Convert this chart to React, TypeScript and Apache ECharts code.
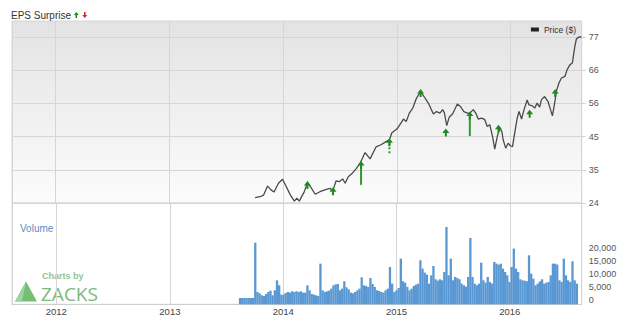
import React, { useEffect, useRef } from 'react';
import * as echarts from 'echarts';

// ---- Data ----
const priceDates = [
  '2013-10-03', '2013-10-19', '2013-10-30', '2013-11-12', '2013-11-23', '2013-12-03', '2013-12-17', '2013-12-30',
  '2014-01-08', '2014-01-24', '2014-02-06', '2014-02-14', '2014-02-22', '2014-03-02', '2014-03-09', '2014-03-20',
  '2014-03-31', '2014-04-14', '2014-04-29', '2014-05-15', '2014-05-31', '2014-06-09', '2014-06-20', '2014-06-30',
  '2014-07-11', '2014-07-19', '2014-07-29', '2014-08-09', '2014-08-23', '2014-09-05', '2014-09-21', '2014-10-07',
  '2014-10-26', '2014-11-11', '2014-11-27', '2014-12-08', '2014-12-16', '2015-01-01', '2015-01-14', '2015-01-22',
  '2015-01-31', '2015-02-10', '2015-02-21', '2015-03-05', '2015-03-18', '2015-03-29', '2015-04-12', '2015-04-28',
  '2015-05-08', '2015-05-19', '2015-05-28', '2015-06-02', '2015-06-10', '2015-06-18', '2015-06-29', '2015-07-14',
  '2015-07-24', '2015-08-04', '2015-08-15', '2015-08-23', '2015-09-03', '2015-09-11', '2015-09-19', '2015-09-30',
  '2015-10-10', '2015-10-18', '2015-10-26', '2015-11-04', '2015-11-11', '2015-11-19', '2015-11-27', '2015-12-04',
  '2015-12-08', '2015-12-16', '2015-12-24', '2016-01-01', '2016-01-07', '2016-01-14', '2016-01-22', '2016-01-28',
  '2016-02-05', '2016-02-13', '2016-02-23', '2016-02-29', '2016-03-11', '2016-03-18', '2016-03-26', '2016-04-03',
  '2016-04-09', '2016-04-19', '2016-04-30', '2016-05-08', '2016-05-14', '2016-05-22', '2016-05-27', '2016-06-04',
  '2016-06-12', '2016-06-23', '2016-06-30', '2016-07-09', '2016-07-17', '2016-07-25', '2016-07-30', '2016-08-07',
  '2016-08-15',
];
const priceValues = [
  25.7, 26.0, 26.5, 29.4, 28.2, 27.5, 30.3, 31.6,
  29.8, 26.6, 24.6, 25.5, 24.6, 26.2, 27.4, 30.5,
  29.0, 26.8, 27.6, 28.2, 28.7, 27.8, 31.1, 30.8,
  31.7, 30.3, 32.4, 33.3, 34.9, 36.7, 40.1, 38.1,
  41.9, 42.6, 43.6, 44.2, 46.4, 47.6, 49.5, 50.8,
  50.0, 52.7, 54.3, 57.5, 59.6, 58.0, 55.9, 52.4,
  53.2, 52.7, 53.8, 52.9, 48.7, 51.4, 52.5, 55.6,
  54.8, 53.2, 52.7, 52.7, 53.8, 52.7, 50.8, 51.1,
  50.6, 48.4, 49.0, 45.2, 41.2, 45.2, 48.0, 46.7,
  44.2, 41.5, 43.1, 42.2, 42.0, 46.3, 51.1, 53.2,
  50.8, 53.8, 56.9, 55.3, 55.0, 54.3, 55.9, 54.6,
  57.0, 58.0, 56.4, 53.8, 51.8, 56.4, 59.8, 62.3,
  63.9, 64.4, 66.5, 68.1, 68.7, 74.0, 76.4, 77.0,
  77.0,
];

// EPS surprise markers (all positive surprises)
const epsDates = ['2014-03-20', '2014-06-10', '2014-09-08', '2014-12-08', '2015-03-18', '2015-06-07', '2015-08-23', '2015-11-23', '2016-03-02', '2016-05-23'];
const epsValues = [29.4, 27.4, 35.8, 43.1, 58.8, 46.2, 51.6, 47.4, 52.2, 58.8];
const epsStemLow = [29.4, 27.4, 29.8, 39.9, 58.8, 46.2, 45.4, 47.4, 52.2, 58.8];
const epsStemKind = [0, 0, 1, 2, 0, 0, 1, 0, 0, 0]; // 0 none, 1 solid, 2 dotted

// Weekly volume, starting at volumeStart
const volumeStart = [2013, 7, 15];
const volumeValues = [
  2450, 2450, 2450, 2450, 2450, 2450, 2450, 23900, 4780, 4260,
  3490, 3230, 4000, 4780, 5300, 3490, 5430, 9300, 7360, 3750,
  3750, 4390, 4780, 4520, 5040, 4780, 5040, 4780, 5040, 4520,
  4520, 7360, 5430, 4000, 3750, 3490, 3230, 15760, 5430, 4780,
  5040, 5300, 6070, 7360, 7750, 7880, 5430, 6070, 8920, 6590,
  5810, 4520, 4260, 4780, 5430, 6070, 10470, 7360, 7110, 6720,
  10210, 7880, 6720, 5430, 5170, 4780, 4520, 5430, 6070, 14470,
  8010, 4780, 5430, 6330, 17700, 8920, 8400, 6720, 5430, 6070,
  7110, 7620, 8010, 17050, 13820, 12270, 11500, 8010, 11240, 14860,
  9690, 9170, 9690, 9300, 12530, 29970, 11240, 17700, 9300, 10590,
  10210, 9690, 8010, 7360, 6850, 10590, 25710, 10590, 8010, 7360,
  8010, 16150, 9300, 8400, 10590, 8660, 8010, 16410, 15760, 15380,
  15760, 13820, 12530, 11240, 8660, 14470, 21580, 13820, 12530, 9690,
  9300, 9170, 8920, 18990, 11890, 9950, 7360, 8010, 8920, 9690,
  8010, 8400, 8660, 11240, 15760, 15760, 15380, 9300, 8660, 17700,
  11240, 9300, 8660, 16670, 9300, 8010,
];

const priceTicks = [24, 34.6, 45.2, 55.8, 66.4, 77];
const volumeTicks = [0, 5000, 10000, 15000, 20000];
const xRange = ['2011-08-15', '2016-08-16'];

const FONT = '"Liberation Sans", Arial, sans-serif';

function toTs(s: string) {
  const [y, m, d] = s.split('-').map(Number);
  return new Date(y, m - 1, d).getTime();
}

export default function App() {
  const ref = useRef<HTMLDivElement>(null);

  useEffect(() => {
    if (!ref.current) return;
    const chart = echarts.init(ref.current, null, { renderer: 'svg' });

    const priceData = priceDates.map((d, i) => [toTs(d), priceValues[i]]);
    const epsData = epsDates.map((d, i) => [toTs(d), epsValues[i], epsStemLow[i], epsStemKind[i]]);
    const volData = volumeValues.map((v, i) => [
      new Date(volumeStart[0], volumeStart[1], volumeStart[2] + 7 * i).getTime(),
      v,
    ]);

    const xMin = toTs(xRange[0]);
    const xMax = toTs(xRange[1]);
    const YEAR = 365 * 24 * 3600 * 1000;
    const yearLabel = (v: number) => {
      const d = new Date(v);
      return d.getMonth() === 0 && d.getDate() === 1 ? String(d.getFullYear()) : '';
    };

    const gridL = 12;
    const gridW = 569.7;
    const pxPerPrice = 33.2 / 10.6;
    const priceTop = 21;
    const priceBottom = 203;
    const priceMax = priceTicks[0] + (priceBottom - priceTop) / pxPerPrice;
    const volTop = 203;
    const volH = 101.3;
    const volMax = (volH / 12.9) * 5000;

    const option: any = {
      animation: false,
      backgroundColor: '#ffffff',
      textStyle: { fontFamily: FONT },
      legend: {
        data: ['Price ($)'],
        right: 48,
        top: 25,
        icon: 'rect',
        itemWidth: 8,
        itemHeight: 4,
        itemGap: 5,
        padding: 0,
        textStyle: { fontSize: 8.5, color: '#333', fontFamily: FONT },
        selectedMode: false,
      },
      grid: [
        {
          left: gridL, top: priceTop, width: gridW, height: priceBottom - priceTop,
          show: true,
          backgroundColor: new echarts.graphic.LinearGradient(0, 0, 0, 1, [
            { offset: 0, color: '#e3e3e3' },
            { offset: 1, color: '#fcfcfc' },
          ]),
          borderColor: '#d6d6d6', borderWidth: 1,
          outerBoundsMode: 'none',
        },
        {
          left: gridL, top: volTop, width: gridW, height: volH,
          show: true, backgroundColor: '#ffffff',
          borderColor: '#d6d6d6', borderWidth: 1,
          outerBoundsMode: 'none',
        },
      ],
      xAxis: [
        {
          type: 'time', gridIndex: 0, min: xMin, max: xMax, minInterval: YEAR,
          axisLabel: { show: false }, axisLine: { show: false }, axisTick: { show: false },
          splitLine: { show: true, lineStyle: { color: '#d6d6d6', width: 1 } },
        },
        {
          type: 'time', gridIndex: 1, min: xMin, max: xMax, minInterval: YEAR,
          axisLabel: {
            show: true, formatter: yearLabel, color: '#444', fontSize: 9.5, margin: 2,
            fontFamily: FONT, hideOverlap: false,
          },
          axisLine: { show: true, lineStyle: { color: '#cfcfcf' } },
          axisTick: { show: false },
          splitLine: { show: true, lineStyle: { color: '#d6d6d6', width: 1 } },
        },
      ],
      yAxis: [
        {
          type: 'value', gridIndex: 0, position: 'right', min: priceTicks[0], max: priceMax,
          axisLabel: {
            customValues: priceTicks, formatter: (v: number) => String(Math.round(v)),
            color: '#555', fontSize: 9, margin: 7, fontFamily: FONT,
          },
          axisTick: { show: true, customValues: priceTicks, length: 4, lineStyle: { color: '#cfcfcf' } },
          axisLine: { show: false },
          splitLine: { show: false },
        },
        {
          type: 'value', gridIndex: 1, position: 'right', min: 0, max: volMax, interval: 5000,
          axisLabel: {
            customValues: volumeTicks,
            formatter: (v: number) => (v > volumeTicks[volumeTicks.length - 1] ? '' : String(v).replace(/\B(?=(\d{3})+(?!\d))/g, ',')),
            color: '#555', fontSize: 9, margin: 7, verticalAlign: 'bottom', fontFamily: FONT,
          },
          axisTick: { show: false },
          axisLine: { show: false },
          splitLine: { show: false },
        },
      ],
      graphic: [
        {
          type: 'text', x: 11, y: 15,
          style: { text: 'EPS Surprise', fill: '#333', fontSize: 10, fontFamily: FONT, verticalAlign: 'middle' },
        },
        {
          type: 'polygon',
          shape: { points: [[76.3, 12], [73.8, 15], [75.5, 15], [75.5, 18], [77.1, 18], [77.1, 15], [78.8, 15]] },
          style: { fill: '#1e8c1e' },
        },
        {
          type: 'polygon',
          shape: { points: [[84.8, 18], [82.3, 15], [84, 15], [84, 12], [85.6, 12], [85.6, 15], [87.3, 15]] },
          style: { fill: '#e02424' },
        },
        {
          type: 'text', x: 20, y: 228.5,
          style: { text: 'Volume', fill: '#5b8cc4', fontSize: 10, fontFamily: FONT, verticalAlign: 'middle' },
        },
        {
          type: 'polygon',
          shape: { points: [[15, 301.5], [26, 281.5], [37, 301.5]] },
          style: { fill: '#74bf74' },
        },
        {
          type: 'polygon',
          shape: { points: [[15, 301.5], [26, 281.5], [22, 301.5]] },
          style: { fill: '#9ed29e' },
        },
        {
          type: 'text', x: 42, y: 275.5,
          style: { text: 'Charts by', fill: '#94c494', fontSize: 9, lineHeight: 9, fontWeight: 'bold', fontFamily: FONT, verticalAlign: 'middle' },
        },
        {
          type: 'text', x: 41, y: 294,
          style: { text: 'ZACKS', fill: '#7db97d', fontSize: 19, lineHeight: 15, fontFamily: '"Open Sans", sans-serif', verticalAlign: 'middle' },
        },
      ],
      series: [
        {
          name: 'Volume', type: 'bar', xAxisIndex: 1, yAxisIndex: 1,
          data: volData, barWidth: 2.3,
          itemStyle: { color: '#5a98d4' },
          silent: true,
        },
        {
          name: 'Price ($)', type: 'line', xAxisIndex: 0, yAxisIndex: 0,
          data: priceData, showSymbol: false, symbol: 'none',
          itemStyle: { color: '#222' },
          lineStyle: { color: '#4a4a4a', width: 1.3 },
          markLine: {
            silent: true, symbol: ['none', 'none'], label: { show: false },
            lineStyle: { color: '#d6d6d6', width: 1, type: 'solid' },
            data: priceTicks.map((v) => ({ yAxis: v })),
            z: 1,
          },
          z: 3,
        },
        {
          name: 'EPS', type: 'custom', xAxisIndex: 0, yAxisIndex: 0,
          data: epsData, z: 5, silent: true,
          renderItem: (params: any, api: any) => {
            const x = api.value(0);
            const y = api.value(1);
            const low = api.value(2);
            const kind = api.value(3);
            const p = api.coord([x, y]);
            const q = api.coord([x, low]);
            const cx = p[0];
            const cy = p[1];
            const children: any[] = [];
            if (kind > 0) {
              children.push({
                type: 'line',
                shape: { x1: cx, y1: cy, x2: cx, y2: q[1] },
                style: { stroke: '#2f9a2f', lineWidth: 2, lineDash: kind === 2 ? [2, 2] : null },
              });
            }
            children.push({
              type: 'polygon',
              shape: {
                points: [
                  [cx, cy - 5], [cx - 3.5, cy - 0.5], [cx - 1, cy - 0.5], [cx - 1, cy + 3],
                  [cx + 1, cy + 3], [cx + 1, cy - 0.5], [cx + 3.5, cy - 0.5],
                ],
              },
              style: { fill: '#1f8a1f' },
            });
            return { type: 'group', children };
          },
        },
      ],
    };

    chart.setOption(option);
    return () => chart.dispose();
  }, []);

  return (
    <div
      ref={ref}
      style={{ position: 'fixed', left: 0, top: 0, width: 624, height: 325, background: '#fff' }}
    />
  );
}
